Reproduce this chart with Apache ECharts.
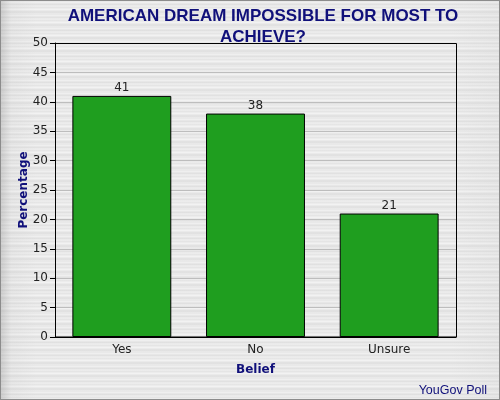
<!DOCTYPE html>
<html><head><meta charset="utf-8">
<script src="https://cdn.jsdelivr.net/npm/echarts@6/dist/echarts.min.js"></script>
<style>
html,body{margin:0;padding:0;}
#c{width:500px;height:400px;box-sizing:border-box;border:1px solid #8c8c8c;
background:
 linear-gradient(90deg, rgba(150,150,150,0.35) 0px, rgba(190,190,190,0.12) 10px, rgba(255,255,255,0) 35px, rgba(255,255,255,0) 450px, rgba(200,200,200,0.15) 500px),
 repeating-linear-gradient(180deg, #e6e6e6 0px, #f2f2f2 2px, #dcdcdc 3px, #efefef 5px, #e2e2e2 7px, #f6f6f6 8px, #dedede 11px, #ececec 13px);
}
</style></head>
<body><div id="c"></div>
<script>
const categories = ["Yes", "No", "Unsure"];
const values = [41, 38, 21];
const chart = echarts.init(document.getElementById('c'));
chart.setOption({
  backgroundColor: 'transparent',
  animation: false,
  title: {
    text: 'AMERICAN DREAM IMPOSSIBLE FOR MOST TO\nACHIEVE?',
    left: 257, top: 0, textAlign: 'center',
    textStyle: {fontFamily: 'Liberation Sans', fontWeight: 'bold', fontSize: 17, color: '#10107a', lineHeight: 21}
  },
  graphic: [
    {type: 'text', right: 12, bottom: 2, style: {text: 'YouGov Poll', font: '12.5px "Liberation Sans"', fill: '#10107a'}},
    {type: 'rect', shape: {x: 54.5, y: 42.5, width: 401, height: 293.5}, style: {fill: 'none', stroke: '#000', lineWidth: 1}, z: 10}
  ],
  grid: {left: 54, top: 42, width: 401, height: 294, containLabel: false},
  xAxis: {
    type: 'category', data: categories,
    name: 'Belief', nameLocation: 'middle', nameGap: 27, nameMoveOverlap: false,
    nameTextStyle: {fontFamily: 'DejaVu Sans', fontWeight: 'bold', fontSize: 12, color: '#10107a'},
    axisLine: {lineStyle: {color: '#000'}},
    axisTick: {alignWithLabel: true, length: 5, lineStyle: {color: '#000'}},
    axisLabel: {fontFamily: 'DejaVu Sans', fontSize: 12, color: '#222', margin: 7}
  },
  yAxis: {
    type: 'value', min: 0, max: 50, interval: 5,
    name: 'Percentage', nameLocation: 'middle', nameGap: 25, nameMoveOverlap: false,
    nameTextStyle: {fontFamily: 'DejaVu Sans', fontWeight: 'bold', fontSize: 12, color: '#10107a'},
    axisLine: {show: true, lineStyle: {color: '#000'}},
    axisTick: {show: true, length: 5, lineStyle: {color: '#000'}},
    axisLabel: {fontFamily: 'DejaVu Sans', fontSize: 12, color: '#222', margin: 7},
    splitLine: {lineStyle: {color: '#bdbdbd'}}
  },
  series: [{
    type: 'bar', data: values, barWidth: '74%',
    itemStyle: {color: '#1f9e1f', borderColor: '#000', borderWidth: 1},
    label: {show: true, position: 'top', distance: 2, fontFamily: 'DejaVu Sans', fontSize: 12, color: '#222'}
  }]
});
</script></body></html>
